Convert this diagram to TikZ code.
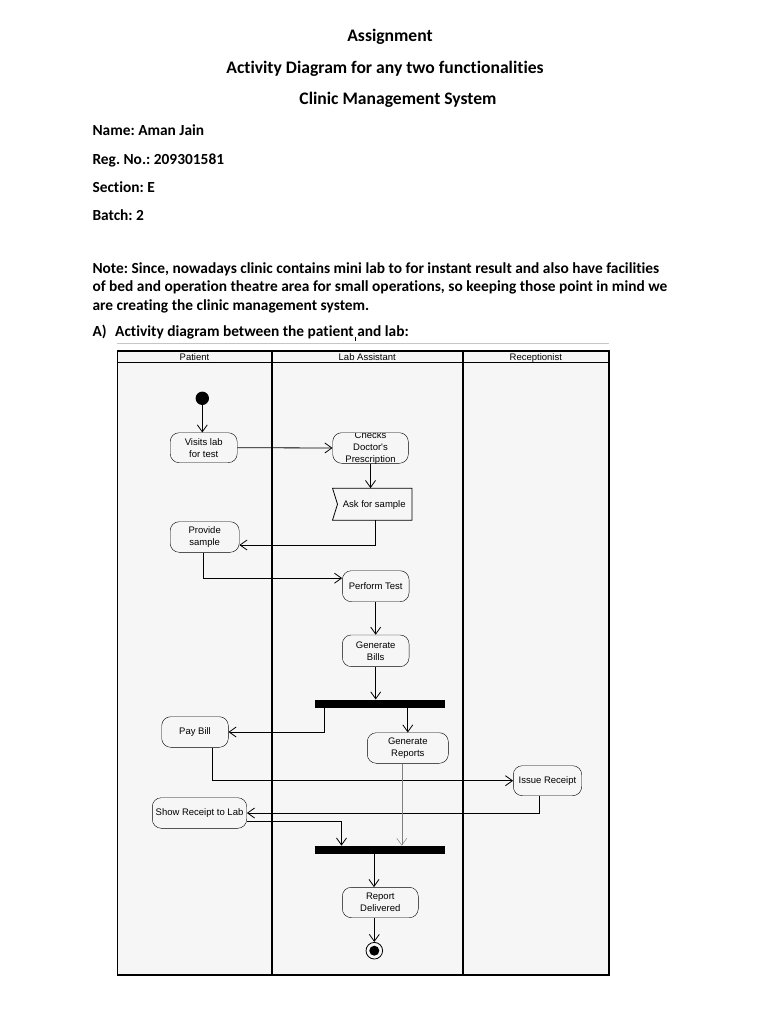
\documentclass[tikz,border=0pt]{standalone}
\usepackage{fontspec}
\setmainfont{Carlito}[Ligatures=NoCommon]
\newfontfamily\umlfont{Liberation Sans}
\usetikzlibrary{arrows.meta,positioning}
\frenchspacing

\tikzset{
  act/.style={draw, rounded corners=9pt, align=center, inner sep=0pt,
    font=\umlfont\fontsize{9.5}{12}\selectfont},
  bar/.style={fill=black, inner sep=0pt, minimum width=130pt, minimum height=8pt},
  flow/.style={-{Straight Barb[length=7pt,width=10pt]}, line width=0.8pt},
  lane/.style={line width=1.6pt},
  title/.style={font=\bfseries\fontsize{17.6}{20}\selectfont, anchor=base, inner sep=0pt},
  textline/.style={font=\bfseries\fontsize{15.4}{18}\selectfont, anchor=base west, inner sep=0pt},
  lanehead/.style={font=\umlfont\fontsize{9.5}{11}\selectfont, anchor=base, inner sep=0pt}
}

\begin{document}
\begin{tikzpicture}[x=1pt, y=-1pt]
  \useasboundingbox[fill=white] (0,0) rectangle (768,1024);

  % heading of the page
  \node[title] (assign) at (390,41.7) {Assignment};
  \node[title] (subject) at (385,74) {Activity Diagram for any two functionalities};
  \node[title] (system) at (398,105) {Clinic Management System};

  \node[textline] (name) at (92.3,136) {Name: Aman Jain};
  \node[textline] (regno) at (92.3,164.5) {Reg. No.: 209301581};
  \node[textline] (section) at (92.3,193) {Section: E};
  \node[textline] (batch) at (92.3,221) {Batch: 2};

  \node[textline] (note1) at (92.3,273.3) {Note: Since, nowadays clinic contains mini lab to for instant result and also have facilities};
  \node[textline] (note2) at (92.3,291.7) {of bed and operation theatre area for small operations, so keeping those point in mind we};
  \node[textline] (note3) at (92.3,310) {are creating the clinic management system.};
  \node[textline] (parta) at (92.3,336.7) {A)};
  \node[textline] (partatext) at (115,336.7) {Activity diagram between the patient and lab:};

  % swimlanes
  \draw[gray!45, line width=0.4pt] (117,343) -- (609,343);
  \draw[line width=0.6pt] (355,336.5) -- (355,340.5);
  \filldraw[fill=gray!7, lane] (117.3,350.7) rectangle (609,975);
  \draw[line width=1.2pt] (117.3,362.7) -- (609,362.7);
  \draw[lane] (271.7,350.7) -- (271.7,975);
  \draw[lane] (462.7,350.7) -- (462.7,975);
  \node[lanehead] (patient) at (194.5,360) {Patient};
  \node[lanehead] (labasst) at (367.2,360) {Lab Assistant};
  \node[lanehead] (recept) at (535.8,360) {Receptionist};

  % activities
  \node[circle, fill=black, minimum size=13.4pt, inner sep=0pt] (start) at (202.3,398.3) {};
  \node[act, minimum width=67pt, minimum height=30pt] (visits) at (203.7,447.7) {Visits lab\\for test};
  \node[act, minimum width=75.6pt, minimum height=30.6pt,
    path picture={\node[font=\umlfont\fontsize{9.5}{12}\selectfont, align=center]
      at ([yshift=0.3pt]path picture bounding box.center) {Checks\\Doctor's\\Prescription};}] (checks) at (370.5,448) {};
  \node[font=\umlfont\fontsize{9.5}{12}\selectfont, inner sep=0pt,
    minimum width=79pt, minimum height=31.7pt, text depth=0pt] (ask) at (372.2,504.2) {\hspace{4pt}Ask for sample};
  \draw[line width=0.8pt] (ask.north west) -- (ask.north east) -- (ask.south east)
    -- (ask.south west) -- ([xshift=5pt]ask.west) -- cycle;
  \node[act, minimum width=69pt, minimum height=30.6pt] (provide) at (204.7,537) {Provide\\sample};
  \node[act, minimum width=66.7pt, minimum height=31pt] (perform) at (375.7,586.2) {Perform Test};
  \node[act, minimum width=66.7pt, minimum height=31.7pt] (bills) at (375.7,650.8) {Generate\\Bills};
  \node[bar] (fork) at (380,703.7) {};
  \node[act, minimum width=66.6pt, minimum height=30.6pt] (paybill) at (195,732) {Pay Bill};
  \node[act, minimum width=81pt, minimum height=30.6pt] (reports) at (407.8,748) {Generate\\Reports};
  \node[act, minimum width=68.4pt, minimum height=30pt] (issue) at (547.5,780.7) {Issue Receipt};
  \node[act, minimum width=94.4pt, minimum height=30.6pt] (show) at (199.5,813) {Show Receipt to Lab};
  \node[bar, minimum height=8.3pt] (join) at (380,850) {};
  \node[act, minimum width=76pt, minimum height=30.4pt] (delivered) at (380.3,902.5) {Report\\Delivered};
  \node[circle, draw, line width=0.8pt, minimum size=16.6pt, inner sep=0pt,
    path picture={\fill (path picture bounding box.center) circle (5pt);}] (end) at (374.3,950.7) {};

  % flows
  \draw[flow] (start) -- (start |- visits.north);
  \draw[flow] (visits.east) -- (checks.west);
  \draw[flow] (checks.south) -- (checks.south |- ask.north);
  \draw[flow] ([xshift=3.5pt]ask.south) |- ([yshift=-8pt]provide.east);
  \draw[flow] ([xshift=-1.4pt]provide.south) |- ([yshift=8pt]perform.west);
  \draw[flow] (perform) -- (bills);
  \draw[flow] (bills.south) -- (bills.south |- fork.north);
  \draw[flow] ([xshift=9.3pt]fork.south west) |- (paybill.east);
  \draw[flow] (fork.south -| reports.north) -- (reports.north);
  \draw[flow] ([xshift=17.3pt]paybill.south) |- (issue.west);
  \draw[flow] ([xshift=-8.2pt]issue.south) |- (show.east);
  \draw[flow] ([yshift=-8pt]show.east) -| ([xshift=26.7pt]join.north west);
  \draw[flow, draw=gray, line width=0.5pt] ([xshift=-6pt]reports.south) -- ([xshift=-6pt]reports.south |- join.north);
  \draw[flow] ([xshift=-6pt]join.south) -- ([xshift=-6pt]join.south |- delivered.north);
  \draw[flow] (delivered.south -| end) -- (end.north);
\end{tikzpicture}
\end{document}
